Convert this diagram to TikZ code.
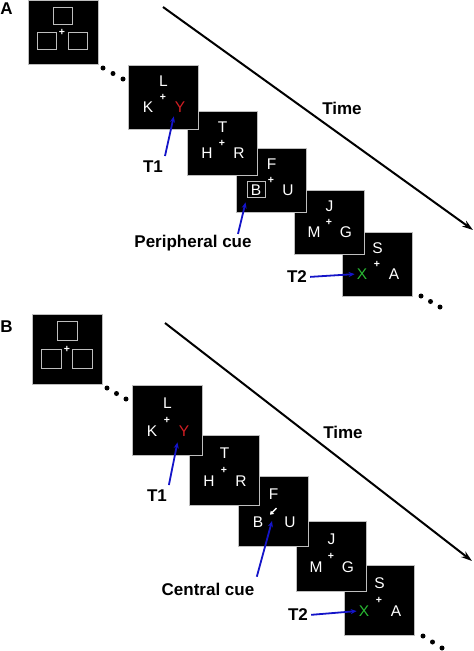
\documentclass[tikz,border=0pt]{standalone}
\usepackage{fontspec}
\setmainfont{Liberation Sans}
\usetikzlibrary{arrows.meta,calc}
\definecolor{cueblue}{RGB}{20,20,200}
\definecolor{tred}{RGB}{210,30,35}
\definecolor{tgreen}{RGB}{40,185,50}
\definecolor{edgegray}{RGB}{190,190,190}
\tikzset{
  stimbox/.style={fill=black, draw=edgegray, line width=0.6pt, minimum width=70pt, anchor=north west, inner sep=0pt, outer sep=0pt},
  letter/.style={text=white, font=\fontsize{15.5}{15.5}\selectfont, inner sep=0pt},
  fixmark/.style={text=white, font=\bfseries\fontsize{10.5}{10.5}\selectfont, inner sep=0pt},
  placebox/.style={draw=edgegray, line width=1pt, inner sep=0pt},
  lab/.style={font=\bfseries\fontsize{17}{17}\selectfont, inner sep=1pt},
  panel/.style={font=\bfseries\fontsize{17}{17}\selectfont, inner sep=0pt},
  cuearrow/.style={cueblue, line width=1.8pt, -{Stealth[length=6pt,width=5pt]}},
  timearrow/.style={black, line width=2pt, -{Stealth[length=11pt,width=7pt]}},
  dotmark/.style={circle, fill=black, minimum size=5pt, inner sep=0pt},
}
% name, x, y, height, top, left, right, centre
\newcommand{\rsvpframe}[8]{%
  \node[stimbox, minimum height=#4pt] (#1) at (#2,#3) {};
  \node[letter] (#1t) at ($(#1.north west)+(35.5,{0.26*#4})$) {#5};
  \node[fixmark] (#1p) at ($(#1.north west)+(35,{0.51*#4})$) {#8};
  \node[letter] (#1l) at ($(#1.north west)+(20,{0.656*#4})$) {#6};
  \node[letter] (#1r) at ($(#1.north west)+(52,{0.656*#4})$) {#7};
}
\begin{document}
\begin{tikzpicture}[x=1pt,y=-1pt]
\useasboundingbox (0,0) rectangle (474,651);
% ================= Panel A =================
\node[panel] (pa) at (6.5,9) {A};
\node[stimbox, minimum height=64pt] (a1) at (28,0) {};
\node[placebox, minimum width=19pt, minimum height=17pt] (a1u) at ($(a1.north west)+(34.5,15.5)$) {};
\node[placebox, minimum width=19pt, minimum height=17pt] (a1a) at ($(a1.north west)+(19,40.5)$) {};
\node[placebox, minimum width=19pt, minimum height=17pt] (a1b) at ($(a1.north west)+(50,40.5)$) {};
\node[fixmark] (a1p) at ($(a1.north west)+(34,32)$) {+};
\node[dotmark] (ad1) at (103,68) {};
\node[dotmark] (ad2) at (113,73.5) {};
\node[dotmark] (ad3) at (123,79) {};
\rsvpframe{a6}{342}{232}{64}{S}{\textcolor{tgreen}{X}}{A}{+}
\rsvpframe{a5}{294}{190}{64}{J}{M}{G}{+}
\rsvpframe{a4}{236}{148}{64}{F}{B}{U}{+}
\rsvpframe{a3}{187}{111}{64}{T}{H}{R}{+}
\rsvpframe{a2}{128}{65}{64}{L}{K}{\textcolor{tred}{Y}}{+}
\node[placebox, minimum width=18pt, minimum height=16pt] (a4cue) at (a4l) {};
\node[dotmark] (ae1) at (421,296) {};
\node[dotmark] (ae2) at (430.5,301.5) {};
\node[dotmark] (ae3) at (440,307) {};
\coordinate (ta0) at (163,7);
\coordinate (ta1) at (473,230);
\draw[timearrow] (ta0) -- (ta1);
\node[lab] (timea) at (342,108) {Time};
\node[lab] (t1a) at (153,167) {T1};
\node[lab] (pca) at (193,243) {Peripheral cue};
\node[lab] (t2a) at (297,277) {T2};
\draw[cuearrow, shorten <=4pt, shorten >=4pt] (t1a.north east) -- (a2r.south west);
\draw[cuearrow, shorten >=4pt] ([xshift=45pt]pca.north) -- (a4cue.south west);
\draw[cuearrow, shorten <=2pt, shorten >=2pt] (t2a.east) -- (a6l.west);
% ================= Panel B =================
\node[panel] (pb) at (6.5,327) {B};
\node[stimbox, minimum height=70pt] (b1) at (32,314) {};
\node[placebox, minimum width=20pt, minimum height=19pt] (b1u) at ($(b1.north west)+(35,17)$) {};
\node[placebox, minimum width=20pt, minimum height=19pt] (b1a) at ($(b1.north west)+(19.5,44.5)$) {};
\node[placebox, minimum width=20pt, minimum height=19pt] (b1b) at ($(b1.north west)+(50,44.5)$) {};
\node[fixmark] (b1p) at ($(b1.north west)+(35,35)$) {+};
\node[dotmark] (bd1) at (107,388) {};
\node[dotmark] (bd2) at (116.5,393.5) {};
\node[dotmark] (bd3) at (126,399) {};
\rsvpframe{b6}{344}{565}{70}{S}{\textcolor{tgreen}{X}}{A}{+}
\rsvpframe{b5}{296}{521}{70}{J}{M}{G}{+}
\rsvpframe{b4}{238}{476}{70}{F}{B}{U}{}
\rsvpframe{b3}{189}{435}{70}{T}{H}{R}{+}
\rsvpframe{b2}{132}{385}{70}{L}{K}{\textcolor{tred}{Y}}{+}
\draw[white, line width=1.4pt, -{Triangle[length=3.5pt,width=4.5pt]}] ($(b4p)+(3.5,-3.5)$) -- ($(b4p)+(-3,3)$);
\node[dotmark] (be1) at (423,636) {};
\node[dotmark] (be2) at (432.5,642) {};
\node[dotmark] (be3) at (442,648) {};
\coordinate (tb0) at (165,323);
\coordinate (tb1) at (472,561);
\draw[timearrow] (tb0) -- (tb1);
\node[lab] (timeb) at (343,432) {Time};
\node[lab] (t1b) at (157,496) {T1};
\node[lab] (ccb) at (208,589) {Central cue};
\node[lab] (t2b) at (298,615) {T2};
\coordinate (ccue) at (272,521);
\draw[cuearrow, shorten <=4pt, shorten >=6pt] (t1b.north east) -- (b2r.south west);
\draw[cuearrow, shorten <=5pt] (ccb.north east) -- (ccue);
\draw[cuearrow, shorten <=2pt, shorten >=2pt] (t2b.east) -- (b6l.west);
\end{tikzpicture}
\end{document}
